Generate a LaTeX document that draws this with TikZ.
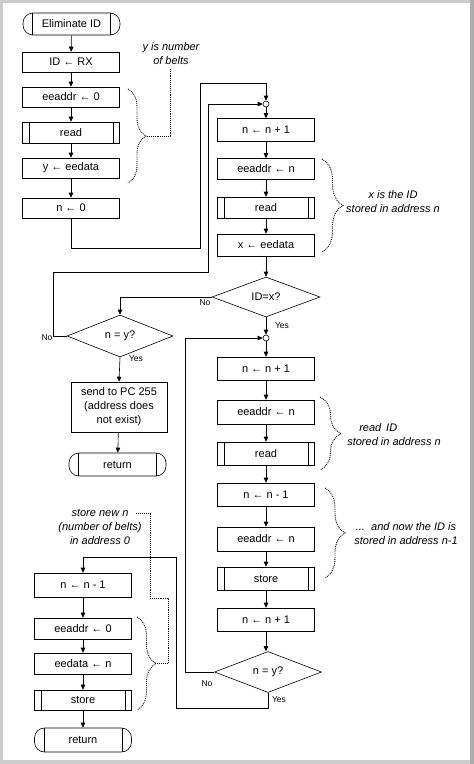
\documentclass[tikz,border=0pt]{standalone}
\usepackage{fontspec}
\setmainfont{Liberation Sans}
\usetikzlibrary{shapes.geometric,arrows.meta,decorations.pathreplacing}
\begin{document}
\begin{tikzpicture}[x=1pt,y=-1pt,
  font=\fontsize{11}{14}\selectfont,
  line width=0.6pt,
  proc/.style={draw, rectangle, minimum width=97pt, minimum height=#1, inner sep=1pt, align=center},
  proc/.default=21pt,
  term/.style={draw, rectangle, rounded corners=10pt, minimum width=97pt, minimum height=#1, inner sep=1pt},
  term/.default=23pt,
  dec/.style={draw, diamond, minimum width=107pt, minimum height=41pt, inner sep=0pt},
  junc/.style={draw, circle, minimum size=6pt, inner sep=0pt},
  arr/.style={-{Triangle[length=5pt,width=4.5pt]}},
  note/.style={font=\fontsize{11}{14}\selectfont\itshape, align=center, inner sep=0pt},
  lbl/.style={font=\fontsize{8.5}{10}\selectfont, inner sep=0pt},
  brc/.style={densely dotted, line width=0.9pt, decorate, decoration={brace, amplitude=#1}},
  leader/.style={densely dotted, line width=0.9pt}
]
\useasboundingbox (0,0) rectangle (474,764);
\fill[gray!40] (0,0) rectangle (474,764);
\fill[gray!65] (470,0) rectangle (474,764);
\fill[white] (3,3) rectangle (470,760);

% left column
\node[term=22pt] (start) at (71.5,24) {Eliminate ID};
\node[proc=20pt] (idrx) at (71,62) {ID ← RX};
\node[proc=20pt] (ea0) at (71,97) {eeaddr ← 0};
\node[proc] (rd1) at (71,132.5) {read};
\node[proc=20pt] (yee) at (71,168) {y ← eedata};
\node[proc=20pt] (n0) at (71,208) {n ← 0};

% right column
\node[junc] (c1) at (266,104) {};
\node[proc=23pt] (nn1a) at (266,130) {n ← n + 1};
\node[proc] (ean1) at (266,169) {eeaddr ← n};
\node[proc] (rd2) at (266,207.5) {read};
\node[proc=22pt] (xee) at (266,245) {x ← eedata};
\node[dec, minimum width=108pt, minimum height=40pt] (d1) at (266,297) {ID=x?};
\node[junc] (c2) at (266,338) {};
\node[proc=23pt] (nn1b) at (266,368.5) {n ← n + 1};
\node[proc=24pt] (ean2) at (266,412) {eeaddr ← n};
\node[proc=23pt] (rd3) at (266,453.5) {read};
\node[proc=23pt] (nm1) at (266,494.5) {n ← n - 1};
\node[proc=24pt] (ean3) at (266,539) {eeaddr ← n};
\node[proc=23pt] (st1) at (266,578.5) {store};
\node[proc=23pt] (nn1c) at (266,619.5) {n ← n + 1};
\node[dec] (d3) at (268,672) {n = y?};

% middle left
\node[dec, minimum width=106pt, minimum height=42pt] (d2) at (120,336) {n = y?};
\node[proc=50pt, minimum width=96pt] (send) at (119,407) {send to PC 255\\(address does\\not exist)};
\node[term] (ret1) at (117.5,464.5) {return};

% bottom left
\node[proc=24pt] (nm1b) at (83,585) {n ← n - 1};
\node[proc] (ea0b) at (83,628.5) {eeaddr ← 0};
\node[proc] (edn) at (83,663.5) {eedata ← n};
\node[proc=20pt] (st2) at (83,700) {store};
\node[term=24pt] (ret2) at (83,740) {return};

% subroutine and terminator inner lines
\foreach \n in {rd1,rd2,rd3,st1,st2}{
  \draw ([xshift=7pt]\n.north west) -- ([xshift=7pt]\n.south west)
        ([xshift=-7pt]\n.north east) -- ([xshift=-7pt]\n.south east);}
\foreach \n in {start,ret1,ret2}{
  \draw ([xshift=10pt]\n.north west) -- ([xshift=10pt]\n.south west)
        ([xshift=-10pt]\n.north east) -- ([xshift=-10pt]\n.south east);}

% connectors
\draw[arr] (start) -- (idrx);
\draw[arr] (idrx) -- (ea0);
\draw[arr] (ea0) -- (rd1);
\draw[arr] (rd1) -- (yee);
\draw[arr] (yee) -- (n0);
\draw[arr] (n0.south) |- (200,248) |- (266,83) -- (c1.north);
\draw[arr] (c1) -- (nn1a);
\draw[arr] (nn1a) -- (ean1);
\draw[arr] (ean1) -- (rd2);
\draw[arr] (rd2) -- (xee);
\draw[arr] (xee) -- (d1);
\draw[arr] (d1.west) -| (d2.north);
\draw[arr] (d1.south) -- (c2.north);
\draw[arr] (d2.west) -- (53,336) -- (53,272) -- (208,272) |- (c1.west);
\draw[arr] (d2.south) -- (send.north);
\draw[arr] (send) -- (ret1);
\draw[arr] (c2) -- (nn1b);
\draw[arr] (nn1b) -- (ean2);
\draw[arr] (ean2) -- (rd3);
\draw[arr] (rd3) -- (nm1);
\draw[arr] (nm1) -- (ean3);
\draw[arr] (ean3) -- (st1);
\draw[arr] (st1) -- (nn1c);
\draw[arr] (nn1c.south) -- (nn1c.south |- d3.north);
\draw[arr] (d3.west) -- (185,672) |- (c2.west);
\draw[arr] (d3.south) |- (176,708) -- (176,557) -| (nm1b.north);
\draw[arr] (nm1b) -- (ea0b);
\draw[arr] (ea0b) -- (edn);
\draw[arr] (edn) -- (st2);
\draw[arr] (st2) -- (ret2);

% branch labels
\node[lbl] (no1) at (205,303) {No};
\node[lbl] (yes1) at (282,326) {Yes};
\node[lbl] (no2) at (47,338) {No};
\node[lbl] (yes2) at (136,359) {Yes};
\node[lbl] (no3) at (207,684) {No};
\node[lbl] (yes3) at (279,700) {Yes};

% annotations
\node[note] (t1) at (171,54) {y is number\\of belts};
\draw[brc=18pt] (128,89) -- (128,183);
\draw[leader] (147,136) -- (170,136) -- (170,69);

\node[note] (t2) at (393,202) {x is the ID\\stored in address n};
\draw[brc=21pt] (322,159) -- (322,252);

\node[note, anchor=west, align=left] (t3) at (347,435) {\hspace*{12pt}read\, ID\\stored in address n};
\draw[brc=21pt] (320,397) -- (320,470);

\node[note] (t4) at (406,534) {...\ \ and now the ID is\\stored in address n-1};
\draw[brc=20pt] (325,488) -- (325,578);

\node[note] (t5) at (100,527) {store new n\\(number of belts)\\in address 0};
\draw[brc=19pt] (137,617) -- (137,710);
\draw[leader] (157,663) -- (168,663) -- (168,598) -- (150,598) -- (150,513) -- (136,513);
\end{tikzpicture}
\end{document}
